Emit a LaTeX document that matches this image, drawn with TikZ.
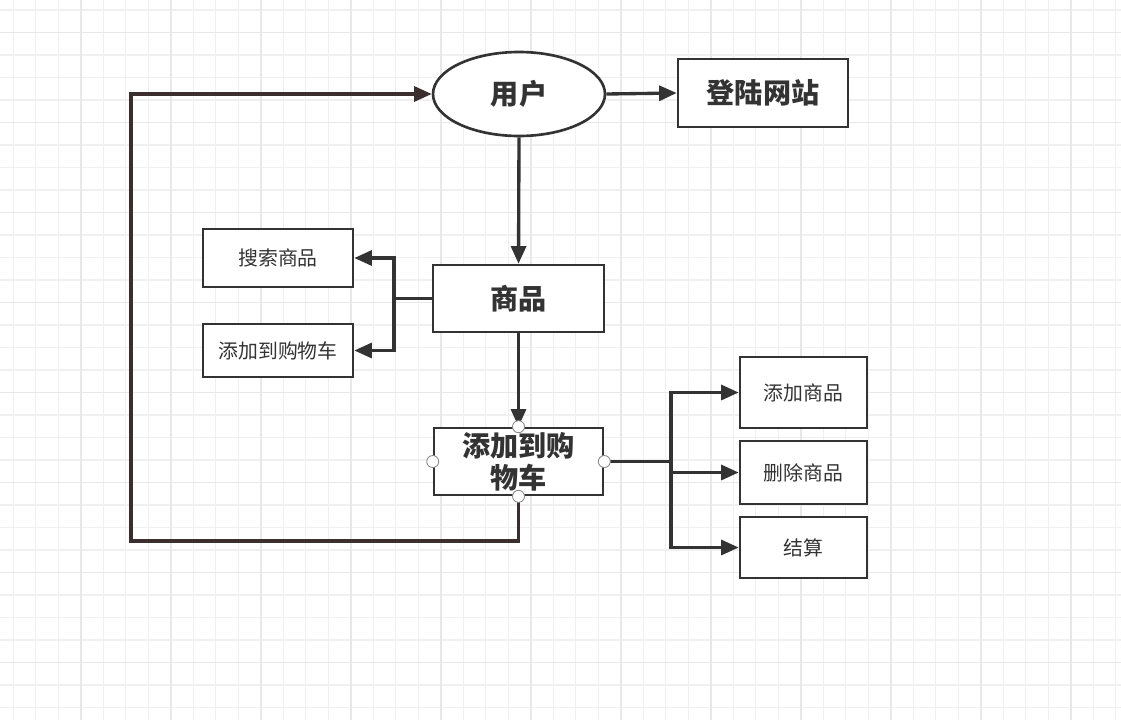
\documentclass[tikz,border=0pt]{standalone}
\usepackage{fontspec}
\setmainfont{Noto Sans CJK SC}
\usetikzlibrary{shapes.geometric,arrows.meta}
\definecolor{ink}{HTML}{333333}
\definecolor{loopink}{HTML}{3A2E2E}
\definecolor{gridminor}{HTML}{F0F0F0}
\definecolor{gridmajor}{HTML}{E8E8E8}
\definecolor{handle}{HTML}{8A8A8A}
\tikzset{
  box/.style={draw=ink, line width=1.5pt, fill=white, text=ink, inner sep=0pt},
  bigtext/.style={font=\fontsize{16}{18}\selectfont\bfseries},
  smalltext/.style={font=\fontsize{11.3}{13}\selectfont},
  arr/.style={draw=ink, line width=1.9pt, -{Triangle[length=10pt,width=8.5pt]}},
  conn/.style={draw=ink, line width=1.9pt},
  hdl/.style={circle, draw=handle, fill=white, line width=0.5pt, minimum size=0.24cm, inner sep=0pt},
}
\begin{document}
\begin{tikzpicture}[x=0.02cm, y=-0.02cm]
\useasboundingbox (0,0) rectangle (1121,720);
\fill[white] (0,0) rectangle (1121,720);
% grid
\foreach \i in {0,...,49} {
  \draw[gridminor, line width=0.7pt] ({13.3+22.5*\i},0) -- ({13.3+22.5*\i},720);
}
\foreach \i in {0,...,31} {
  \draw[gridminor, line width=0.7pt] (0,{10+22.5*\i}) -- (1121,{10+22.5*\i});
}
\foreach \i in {0,...,12} {
  \draw[gridmajor, line width=0.7pt] ({81+90*\i},0) -- ({81+90*\i},720);
}
\foreach \i in {0,...,7} {
  \draw[gridmajor, line width=0.7pt] (0,{32.5+90*\i}) -- (1121,{32.5+90*\i});
}

% nodes
\node[box, ellipse, bigtext, minimum width=3.44cm, minimum height=1.68cm] (user) at (519,94) {用户};
\node[box, bigtext, minimum width=3.4cm, minimum height=1.36cm] (login) at (763,93) {登陆网站};
\node[box, bigtext, minimum width=3.42cm, minimum height=1.34cm] (goods) at (518.5,298.5) {商品};
\node[box, smalltext, minimum width=3cm, minimum height=1.16cm] (search) at (278,258) {搜索商品};
\node[box, smalltext, minimum width=3cm, minimum height=1.06cm] (addsmall) at (278,350.5) {添加到购物车};
\node[box, bigtext, align=center, minimum width=3.38cm, minimum height=1.34cm] (cart) at (518.5,461.5) {添加到购\\[0pt]物车};
\node[box, smalltext, minimum width=2.54cm, minimum height=1.42cm] (addg) at (803.5,392.5) {添加商品};
\node[box, smalltext, minimum width=2.54cm, minimum height=1.26cm] (delg) at (803.5,472.5) {删除商品};
\node[box, smalltext, minimum width=2.54cm, minimum height=1.22cm] (pay) at (803.5,547.5) {结算};

% junction coordinates
\coordinate (j1) at (394,298.5);
\coordinate (j2) at (671,461.5);
\coordinate (c1) at (131,541);
\coordinate (c2) at (131,94);

% connectors
\draw[arr] (user.east) -- (login.west);
\draw[arr] (user.south) -- (goods.north);
\draw[conn] (goods.west) -- (j1);
\draw[arr] (j1) |- (search.east);
\draw[arr] (j1) |- (addsmall.east);
\draw[arr] (goods.south) -- (cart.north);
\draw[conn] (cart.east) -- (j2);
\draw[arr] (j2) |- (addg.west);
\draw[arr] (j2) |- (delg.west);
\draw[arr] (j2) |- (pay.west);
\draw[arr, draw=loopink, line join=miter] (cart.south) |- (c1) -- (c2) -- (user.west);

% selection handles
\node[hdl] (h1) at (cart.north) {};
\node[hdl] (h2) at (cart.west) {};
\node[hdl] (h3) at (cart.east) {};
\node[hdl] (h4) at (cart.south) {};
\end{tikzpicture}
\end{document}
